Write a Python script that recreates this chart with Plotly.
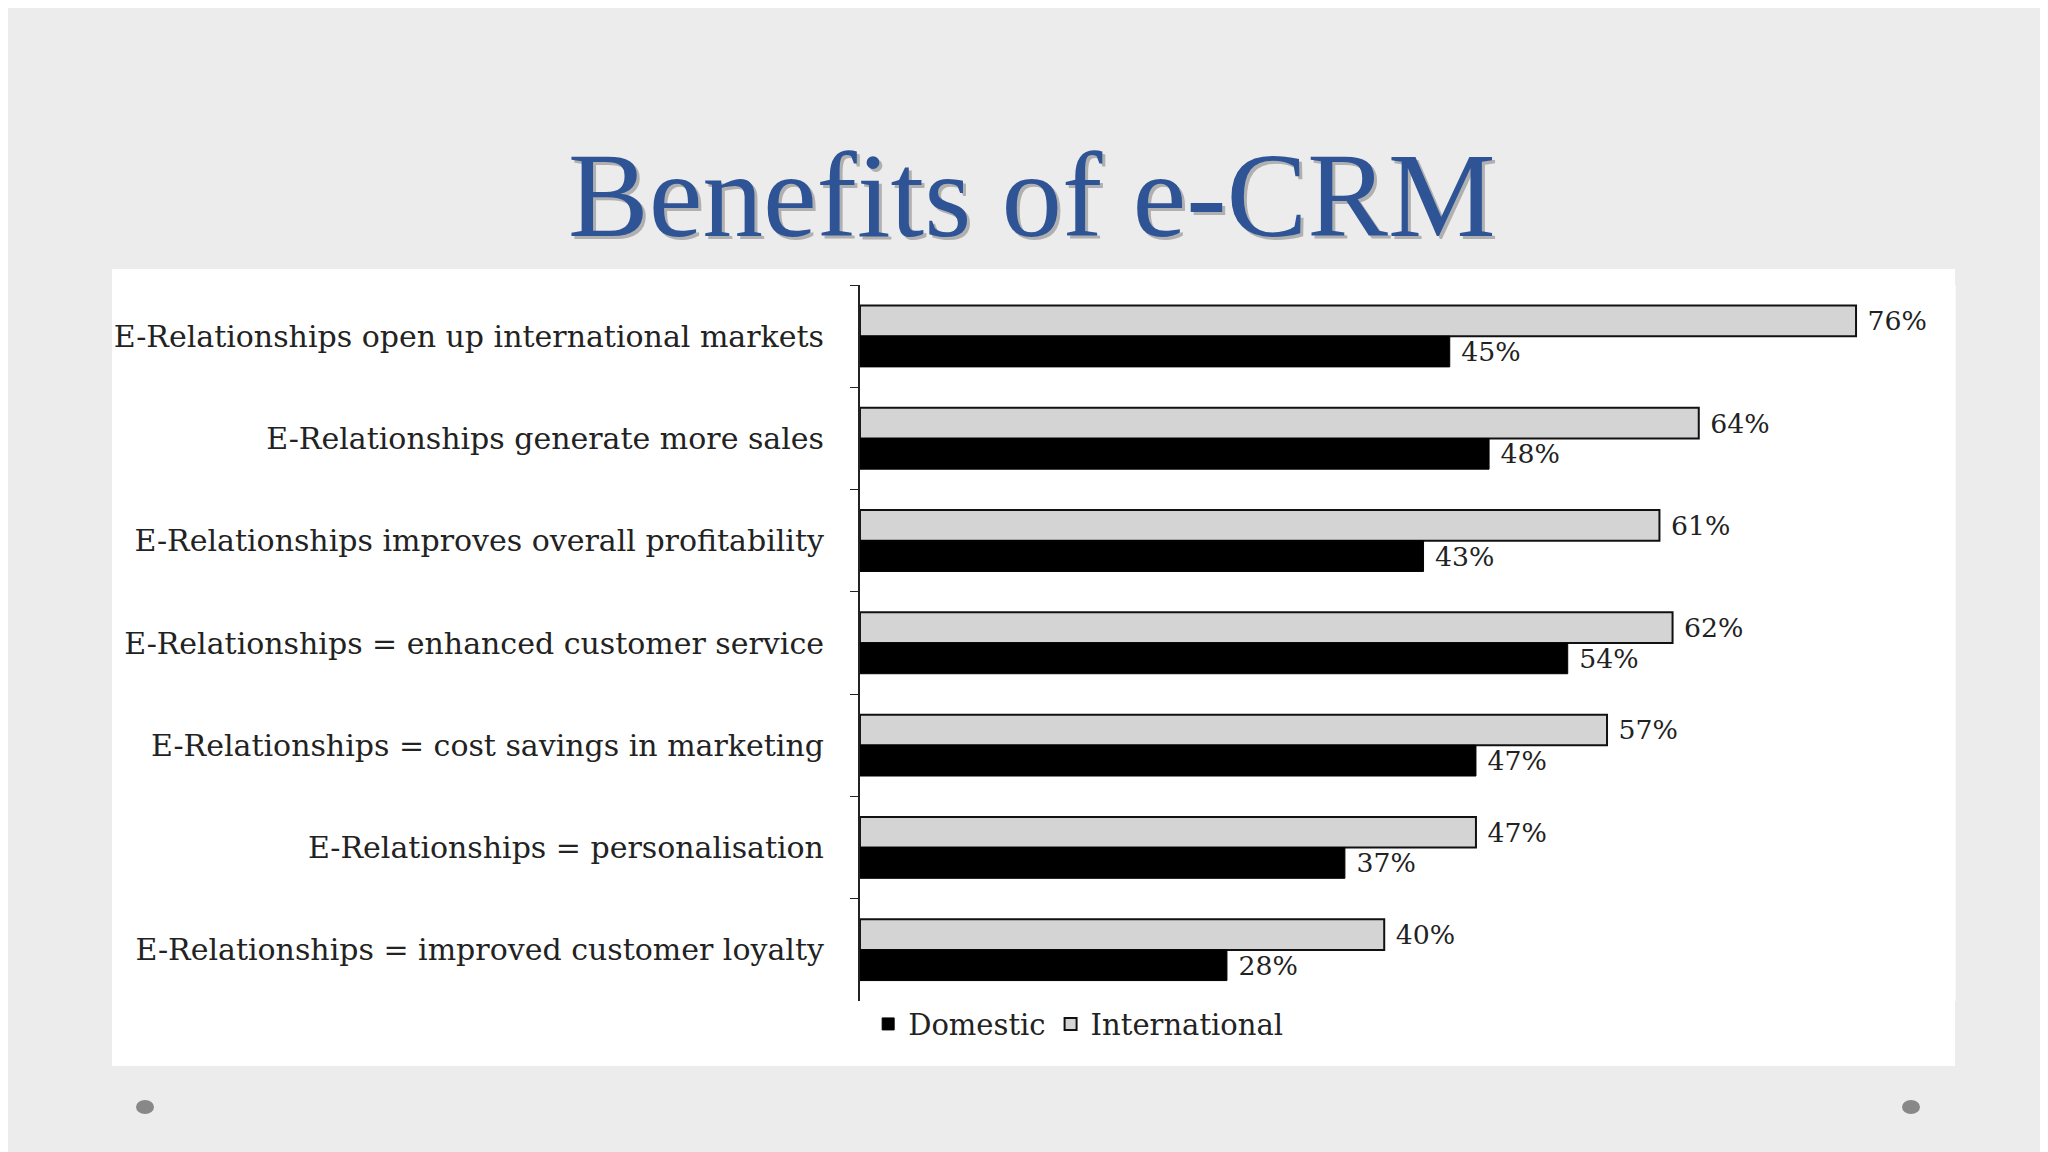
import plotly.graph_objects as go

categories = [
    "E-Relationships open up international markets",
    "E-Relationships generate more sales",
    "E-Relationships improves overall profitability",
    "E-Relationships = enhanced customer service",
    "E-Relationships = cost savings in marketing",
    "E-Relationships = personalisation",
    "E-Relationships = improved customer loyalty",
]
international = [76, 64, 61, 62, 57, 47, 40]
domestic = [45, 48, 43, 54, 47, 37, 28]

serif = "Liberation Serif, DejaVu Serif, serif"
wide = "DejaVu Serif, serif"
fig = go.Figure()
fig.add_trace(go.Bar(y=categories, x=international, name="International", orientation="h",
                     marker=dict(color="#d4d4d4", line=dict(color="#111", width=2)),
                     text=[f" {v}%" for v in international], textposition="outside",
                     textfont=dict(family=wide, size=27, color="#222"), cliponaxis=False))
fig.add_trace(go.Bar(y=categories, x=domestic, name="Domestic", orientation="h",
                     marker=dict(color="#000000", line=dict(color="#000", width=1)),
                     text=[f" {v}%" for v in domestic], textposition="outside",
                     textfont=dict(family=wide, size=27, color="#222"), cliponaxis=False))

fig.update_layout(
    width=2048, height=1152,
    paper_bgcolor="#ececec", plot_bgcolor="white",
    margin=dict(l=0, r=0, t=0, b=0),
    barmode="group", bargap=0.4, bargroupgap=0.0,
    font=dict(family=wide, color="#222"),
    xaxis=dict(domain=[0.416, 0.951], range=[0, 83.6], visible=False),
    yaxis=dict(domain=[0.138, 0.7595], autorange="reversed", showline=True,
               linecolor="#222", linewidth=2, ticks="outside", tickson="boundaries",
               ticklen=8, tickcolor="#222", tickfont=dict(family=wide, size=30, color="#222"),
               ticklabelstandoff=28, showgrid=False),
    legend=dict(orientation="h", x=0.42, y=0.118, xanchor="left", yanchor="middle",
                traceorder="reversed", font=dict(family=wide, size=29, color="#222"),
                bgcolor="rgba(0,0,0,0)"),
    shapes=[
        dict(type="rect", xref="paper", yref="paper", x0=104/2048, x1=1947/2048,
             y0=1-1058/1152, y1=1-261/1152, fillcolor="white", line=dict(width=0), layer="below"),
        dict(type="circle", xref="paper", yref="paper", x0=128/2048, x1=146/2048,
             y0=1-1106/1152, y1=1-1092/1152, fillcolor="#888", line=dict(width=0)),
        dict(type="circle", xref="paper", yref="paper", x0=1894/2048, x1=1912/2048,
             y0=1-1106/1152, y1=1-1092/1152, fillcolor="#888", line=dict(width=0)),
    ],
    annotations=[
        dict(text="Benefits of e-CRM", xref="paper", yref="paper", x=1027/2048, y=1-190/1152,
             showarrow=False, xanchor="center", yanchor="middle",
             font=dict(family=serif, size=121, color="#b0b0b0")),
        dict(text="Benefits of e-CRM", xref="paper", yref="paper", x=1024/2048, y=1-187/1152,
             showarrow=False, xanchor="center", yanchor="middle",
             font=dict(family=serif, size=121, color="#2f5496")),
    ],
)
fig.write_html("out.html")
